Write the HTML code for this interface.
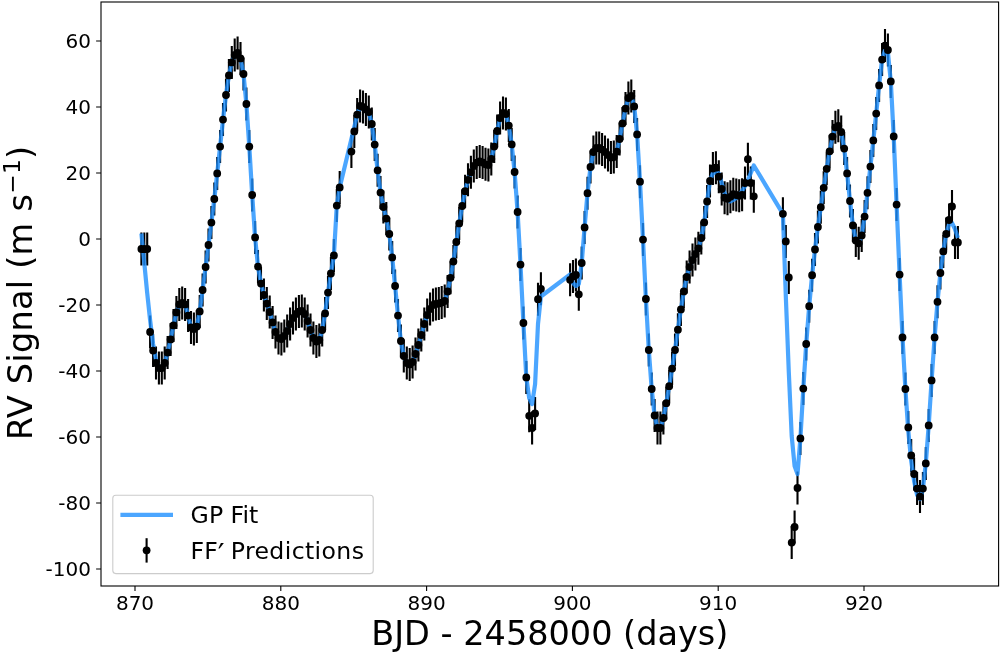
<!DOCTYPE html>
<html><head><meta charset="utf-8"><title>RV Signal</title>
<style>
html,body{margin:0;padding:0;background:#fff;}
svg{display:block;font-family:"DejaVu Sans","Liberation Sans",sans-serif;fill:#000;}
.t{font-size:20px}
.l{font-size:33.5px}
.g{font-size:23.6px}
</style></head><body>
<svg width="1000" height="653" viewBox="0 0 1000 653">
<rect width="1000" height="653" fill="#fff"/>
<g fill="none">
<path d="M141.4 232.5v33M144.3 232.5v33M147.2 232.5v33M150.1 315.5v33M153.1 334.1v33M156 346.5v33M158.9 351.5v33M161.8 351.5v33M164.7 346.5v33M167.6 336.1v33M170.6 322.9v33M173.5 308.9v33M176.4 295.9v33M179.3 287.9v33M182.2 286.5v33M185.1 287.9v33M188.1 299.1v33M191 310.9v33M193.9 312.5v33M196.8 310.1v33M199.7 294.9v33M202.6 273.5v33M205.6 250.5v33M208.5 228.5v33M211.4 206.1v33M214.3 182.5v33M217.2 156.9v33M220.1 130.1v33M223 103.1v33M226 78.5v33M228.9 58.9v33M231.8 45.9v33M234.7 38.5v33M237.6 36.5v33M240.5 41.9v33M243.5 57.5v33M246.4 87.5v33M249.3 130.1v33M252.2 178.5v33M255.1 220.9v33M258 250.1v33M261 267.1v33M263.9 278.5v33M266.8 287.1v33M269.7 295.5v33M272.6 305.9v33M275.5 315.5v33M278.5 321.5v33M281.4 322.5v33M284.3 319.5v33M287.2 314.5v33M290.1 307.5v33M293 301.5v33M295.9 297.5v33M298.9 295.1v33M301.8 294.5v33M304.7 297.5v33M307.6 304.5v33M310.5 313.5v33M313.4 321.5v33M316.4 325v33M319.3 323.5v33M322.2 313.5v33M325.1 296.9v33M328 276.1v33M330.9 257v33M333.9 238.9v33M336.8 189.1v33M339.7 170.9v33M351.4 135.1v33M354.3 114.9v33M357.2 98.1v33M360.1 89.5v33M363 90.5v33M365.9 92.9v33M368.8 95.5v33M371.8 107.5v33M374.7 128.1v33M377.6 153.8v33M380.5 176.1v33M383.4 190.5v33M386.3 202.1v33M389.3 217.5v33M392.2 240.9v33M395.1 269.5v33M398 299.1v33M400.9 324.5v33M403.8 339.5v33M406.8 346.5v33M409.7 347.9v33M412.6 345.5v33M415.5 337.5v33M418.4 328.5v33M421.3 318.5v33M424.3 307.5v33M427.2 298.5v33M430.1 292.5v33M433 288.5v33M435.9 287.5v33M438.8 286.9v33M441.7 286.1v33M444.7 284.5v33M447.6 275v33M450.5 261.3v33M453.4 245v33M456.3 225.5v33M459.2 206.9v33M462.2 189.5v33M465.1 174.7v33M468 163.3v33M470.9 155.7v33M473.8 149.5v33M476.7 146.1v33M479.7 144.9v33M482.6 146v33M485.5 147.8v33M488.4 148.5v33M491.3 142.5v33M494.2 130.1v33M497.2 114.5v33M500.1 101.5v33M503 96.5v33M505.9 97.5v33M508.8 109.1v33M511.7 127.9v33M514.6 155.5v33M517.6 195.5v33M520.5 248.1v33M523.4 306.5v33M526.3 360.9v33M529.2 399.3v33M532.1 411.5v33M535.1 396.9v33M538 282.7v33M540.9 272.3v33M570.1 263.3v33M573 260v33M575.9 258.4v33M578.8 277.8v33M581.7 246.5v33M584.6 210.9v33M587.5 176.7v33M590.5 150.5v33M593.4 135.5v33M596.3 131.5v33M599.2 131.5v33M602.1 133.1v33M605 135.5v33M608 138.5v33M610.9 141.1v33M613.8 140.5v33M616.7 135.1v33M619.6 122.5v33M622.5 106.9v33M625.5 92.1v33M628.4 81.5v33M631.3 79.5v33M634.2 89.9v33M637.1 117.9v33M640 165.2v33M643 223.1v33M645.9 282.5v33M648.8 333.5v33M651.7 372.5v33M654.6 399v33M657.5 411.5v33M660.4 411.5v33M663.4 401.5v33M666.3 386.7v33M669.2 369.7v33M672.1 352.1v33M675 333.5v33M677.9 313.2v33M680.9 292.9v33M683.8 274.9v33M686.7 260.5v33M689.6 250.5v33M692.5 243.5v33M695.4 237.5v33M698.4 231.8v33M701.3 221.5v33M704.2 205.9v33M707.1 185v33M710 164.5v33M712.9 152v33M715.9 151.2v33M718.8 160.2v33M721.7 172.5v33M724.6 181.2v33M727.5 182.3v33M730.4 180.3v33M733.3 177.7v33M736.3 178.5v33M739.2 179.2v33M742.1 178.3v33M745 166.5v33M747.9 142.7v33M750.8 166.5v33M753.8 179.8v33M782.9 197.3v33M785.8 224.9v33M788.8 260.9v33M791.7 526.1v33M794.6 510.5v33M797.5 471.5v33M800.4 421.9v33M803.3 372.1v33M806.2 327.5v33M809.2 289.7v33M812.1 258.7v33M815 233v33M817.9 210.5v33M820.8 190.7v33M823.7 171.3v33M826.7 152.3v33M829.6 134.8v33M832.5 120.1v33M835.4 110.8v33M838.3 109.3v33M841.2 115.5v33M844.2 132.1v33M847.1 156.9v33M850 184.5v33M852.9 208.9v33M855.8 224v33M858.7 226.8v33M861.7 218.9v33M864.6 200.1v33M867.5 176.3v33M870.4 150.1v33M873.3 123.9v33M876.2 97.1v33M879.1 68.9v33M882.1 43.1v33M885 29.1v33M887.9 33.5v33M890.8 64.9v33M893.7 119.9v33M896.6 188.1v33M899.6 258.1v33M902.5 320.9v33M905.4 372.5v33M908.3 410.9v33M911.2 438.9v33M914.1 457.5v33M917.1 472.1v33M920 480.1v33M922.9 472.1v33M925.8 446.9v33M928.7 408.9v33M931.6 363.9v33M934.6 320.9v33M937.5 285.3v33M940.4 256.5v33M943.3 234.9v33M946.2 217.5v33M949.1 203.5v33M952 190v33M955 225.9v33M957.9 225.9v33" stroke="#000" stroke-width="2.1"/>
<path d="M141.4 233.5 144.3 263 147.2 293 150.1 320 153.1 344 156 360 158.9 367 161.8 368 164.7 363 167.6 352.6 170.6 339.4 173.5 325.4 176.4 312.4 179.3 304.4 182.2 303 185.1 304.4 188.1 315.6 191 327.4 193.9 329 196.8 326.6 199.7 311.4 202.6 290 205.6 267 208.5 245 211.4 222.6 214.3 199 217.2 173.4 220.1 146.6 223 119.6 226 95 228.9 75.4 231.8 62.4 234.7 55 237.6 53 240.5 58.4 243.5 74 246.4 104 249.3 146.6 252.2 195 255.1 237.4 258 266.6 261 283.6 263.9 295 266.8 303.6 269.7 312 272.6 322.4 275.5 332 278.5 338 281.4 339 284.3 336 287.2 331 290.1 324 293 318 295.9 314 298.9 311.6 301.8 311 304.7 314 307.6 321 310.5 330 313.4 338 316.4 341.5 319.3 340 322.2 330 325.1 313.4 328 292.6 330.9 273.5 333.9 255.4 336.8 205.6 339.7 187.4 351.4 139 354.3 127 357.2 114.6 360.1 106 363 107 365.9 109.4 368.8 112 371.8 124 374.7 144.6 377.6 170.3 380.5 192.6 383.4 207 386.3 218.6 389.3 234 392.2 257.4 395.1 286 398 315.6 400.9 341 403.8 356 406.8 363 409.7 364.4 412.6 362 415.5 354 418.4 345 421.3 335 424.3 324 427.2 315 430.1 309 433 305 435.9 304 438.8 303.4 441.7 302.6 444.7 301 447.6 291.5 450.5 277.8 453.4 261.5 456.3 242 459.2 223.4 462.2 206 465.1 191.2 468 179.8 470.9 172.2 473.8 166 476.7 162.6 479.7 161.4 482.6 162.5 485.5 164.3 488.4 165 491.3 159 494.2 146.6 497.2 131 500.1 118 503 113 505.9 114 508.8 125.6 511.7 144.4 514.6 172 517.6 212 520.5 264.6 523.4 323 526.3 377.4 529.2 398 532.1 404 535.1 384 538 324 540.9 296.5 570.1 274.5 573 283 575.9 286 578.8 284 581.7 263 584.6 227.4 587.5 193.2 590.5 167 593.4 152 596.3 148 599.2 148 602.1 149.6 605 152 608 155 610.9 157.6 613.8 157 616.7 151.6 619.6 139 622.5 123.4 625.5 108.6 628.4 98 631.3 96 634.2 106.4 637.1 134.4 640 181.7 643 239.6 645.9 299 648.8 350 651.7 389 654.6 415.5 657.5 428 660.4 428 663.4 418 666.3 403.2 669.2 386.2 672.1 368.6 675 350 677.9 329.7 680.9 309.4 683.8 291.4 686.7 277 689.6 267 692.5 260 695.4 254 698.4 248.3 701.3 238 704.2 222.4 707.1 201.5 710 181 712.9 173 715.9 171.5 718.8 173.5 721.7 183 724.6 193 727.5 199.5 730.4 201.5 733.3 200 736.3 198 739.2 195 742.1 191 745 186 747.9 180 750.8 173 753.8 165.5 782.9 213.8 785.8 296 788.8 372 791.7 436 794.6 466 797.5 474 800.4 438.4 803.3 388.6 806.2 344 809.2 306.2 812.1 275.2 815 249.5 817.9 227 820.8 207.2 823.7 187.8 826.7 168.8 829.6 151.3 832.5 136.6 835.4 127.3 838.3 125.8 841.2 132 844.2 148.6 847.1 173.4 850 201 852.9 225.4 855.8 240.5 858.7 243.3 861.7 235.4 864.6 216.6 867.5 192.8 870.4 166.6 873.3 140.4 876.2 113.6 879.1 85.4 882.1 59.6 885 50 887.9 52.5 890.8 81.4 893.7 136.4 896.6 204.6 899.6 274.6 902.5 337.4 905.4 389 908.3 431 911.2 461 914.1 481 917.1 495 920 499 922.9 488.6 925.8 463.4 928.7 425.4 931.6 380.4 934.6 337.4 937.5 301.8 940.4 273 943.3 251.4 946.2 234 949.1 224 952 223 955 229 957.9 238" stroke="#1e90ff" stroke-opacity="0.8" stroke-width="4.2" stroke-linejoin="round" stroke-linecap="butt"/>
<path d="M141.4 249h.01M144.3 249h.01M147.2 249h.01M150.1 332h.01M153.1 350.6h.01M156 363h.01M158.9 368h.01M161.8 368h.01M164.7 363h.01M167.6 352.6h.01M170.6 339.4h.01M173.5 325.4h.01M176.4 312.4h.01M179.3 304.4h.01M182.2 303h.01M185.1 304.4h.01M188.1 315.6h.01M191 327.4h.01M193.9 329h.01M196.8 326.6h.01M199.7 311.4h.01M202.6 290h.01M205.6 267h.01M208.5 245h.01M211.4 222.6h.01M214.3 199h.01M217.2 173.4h.01M220.1 146.6h.01M223 119.6h.01M226 95h.01M228.9 75.4h.01M231.8 62.4h.01M234.7 55h.01M237.6 53h.01M240.5 58.4h.01M243.5 74h.01M246.4 104h.01M249.3 146.6h.01M252.2 195h.01M255.1 237.4h.01M258 266.6h.01M261 283.6h.01M263.9 295h.01M266.8 303.6h.01M269.7 312h.01M272.6 322.4h.01M275.5 332h.01M278.5 338h.01M281.4 339h.01M284.3 336h.01M287.2 331h.01M290.1 324h.01M293 318h.01M295.9 314h.01M298.9 311.6h.01M301.8 311h.01M304.7 314h.01M307.6 321h.01M310.5 330h.01M313.4 338h.01M316.4 341.5h.01M319.3 340h.01M322.2 330h.01M325.1 313.4h.01M328 292.6h.01M330.9 273.5h.01M333.9 255.4h.01M336.8 205.6h.01M339.7 187.4h.01M351.4 151.6h.01M354.3 131.4h.01M357.2 114.6h.01M360.1 106h.01M363 107h.01M365.9 109.4h.01M368.8 112h.01M371.8 124h.01M374.7 144.6h.01M377.6 170.3h.01M380.5 192.6h.01M383.4 207h.01M386.3 218.6h.01M389.3 234h.01M392.2 257.4h.01M395.1 286h.01M398 315.6h.01M400.9 341h.01M403.8 356h.01M406.8 363h.01M409.7 364.4h.01M412.6 362h.01M415.5 354h.01M418.4 345h.01M421.3 335h.01M424.3 324h.01M427.2 315h.01M430.1 309h.01M433 305h.01M435.9 304h.01M438.8 303.4h.01M441.7 302.6h.01M444.7 301h.01M447.6 291.5h.01M450.5 277.8h.01M453.4 261.5h.01M456.3 242h.01M459.2 223.4h.01M462.2 206h.01M465.1 191.2h.01M468 179.8h.01M470.9 172.2h.01M473.8 166h.01M476.7 162.6h.01M479.7 161.4h.01M482.6 162.5h.01M485.5 164.3h.01M488.4 165h.01M491.3 159h.01M494.2 146.6h.01M497.2 131h.01M500.1 118h.01M503 113h.01M505.9 114h.01M508.8 125.6h.01M511.7 144.4h.01M514.6 172h.01M517.6 212h.01M520.5 264.6h.01M523.4 323h.01M526.3 377.4h.01M529.2 415.8h.01M532.1 428h.01M535.1 413.4h.01M538 299.2h.01M540.9 288.8h.01M570.1 279.8h.01M573 276.5h.01M575.9 274.9h.01M578.8 294.3h.01M581.7 263h.01M584.6 227.4h.01M587.5 193.2h.01M590.5 167h.01M593.4 152h.01M596.3 148h.01M599.2 148h.01M602.1 149.6h.01M605 152h.01M608 155h.01M610.9 157.6h.01M613.8 157h.01M616.7 151.6h.01M619.6 139h.01M622.5 123.4h.01M625.5 108.6h.01M628.4 98h.01M631.3 96h.01M634.2 106.4h.01M637.1 134.4h.01M640 181.7h.01M643 239.6h.01M645.9 299h.01M648.8 350h.01M651.7 389h.01M654.6 415.5h.01M657.5 428h.01M660.4 428h.01M663.4 418h.01M666.3 403.2h.01M669.2 386.2h.01M672.1 368.6h.01M675 350h.01M677.9 329.7h.01M680.9 309.4h.01M683.8 291.4h.01M686.7 277h.01M689.6 267h.01M692.5 260h.01M695.4 254h.01M698.4 248.3h.01M701.3 238h.01M704.2 222.4h.01M707.1 201.5h.01M710 181h.01M712.9 168.5h.01M715.9 167.7h.01M718.8 176.7h.01M721.7 189h.01M724.6 197.7h.01M727.5 198.8h.01M730.4 196.8h.01M733.3 194.2h.01M736.3 195h.01M739.2 195.7h.01M742.1 194.8h.01M745 183h.01M747.9 159.2h.01M750.8 183h.01M753.8 196.3h.01M782.9 213.8h.01M785.8 241.4h.01M788.8 277.4h.01M791.7 542.6h.01M794.6 527h.01M797.5 488h.01M800.4 438.4h.01M803.3 388.6h.01M806.2 344h.01M809.2 306.2h.01M812.1 275.2h.01M815 249.5h.01M817.9 227h.01M820.8 207.2h.01M823.7 187.8h.01M826.7 168.8h.01M829.6 151.3h.01M832.5 136.6h.01M835.4 127.3h.01M838.3 125.8h.01M841.2 132h.01M844.2 148.6h.01M847.1 173.4h.01M850 201h.01M852.9 225.4h.01M855.8 240.5h.01M858.7 243.3h.01M861.7 235.4h.01M864.6 216.6h.01M867.5 192.8h.01M870.4 166.6h.01M873.3 140.4h.01M876.2 113.6h.01M879.1 85.4h.01M882.1 59.6h.01M885 45.6h.01M887.9 50h.01M890.8 81.4h.01M893.7 136.4h.01M896.6 204.6h.01M899.6 274.6h.01M902.5 337.4h.01M905.4 389h.01M908.3 427.4h.01M911.2 455.4h.01M914.1 474h.01M917.1 488.6h.01M920 496.6h.01M922.9 488.6h.01M925.8 463.4h.01M928.7 425.4h.01M931.6 380.4h.01M934.6 337.4h.01M937.5 301.8h.01M940.4 273h.01M943.3 251.4h.01M946.2 234h.01M949.1 220h.01M952 206.5h.01M955 242.4h.01M957.9 242.4h.01" stroke="#000" stroke-width="7.8" stroke-linecap="round"/>
<path d="M135 586v4.9M280.8 586v4.9M426.6 586v4.9M572.4 586v4.9M718.2 586v4.9M864 586v4.9M101 569h-4.9M101 503h-4.9M101 437h-4.9M101 371h-4.9M101 305h-4.9M101 239h-4.9M101 173h-4.9M101 107h-4.9M101 41h-4.9" stroke="#000" stroke-width="1.1"/>
<rect x="101.0" y="2.0" width="897.6" height="584.0" stroke="#000" stroke-width="1.1"/>
</g>
<g class="t"><text x="135" y="610.3" text-anchor="middle">870</text><text x="280.8" y="610.3" text-anchor="middle">880</text><text x="426.6" y="610.3" text-anchor="middle">890</text><text x="572.4" y="610.3" text-anchor="middle">900</text><text x="718.2" y="610.3" text-anchor="middle">910</text><text x="864" y="610.3" text-anchor="middle">920</text><text x="91" y="576.3" text-anchor="end">-100</text><text x="91" y="510.3" text-anchor="end">-80</text><text x="91" y="444.3" text-anchor="end">-60</text><text x="91" y="378.3" text-anchor="end">-40</text><text x="91" y="312.3" text-anchor="end">-20</text><text x="91" y="246.3" text-anchor="end">0</text><text x="91" y="180.3" text-anchor="end">20</text><text x="91" y="114.3" text-anchor="end">40</text><text x="91" y="48.3" text-anchor="end">60</text></g>
<text class="l" x="549.8" y="645.4" text-anchor="middle">BJD - 2458000 (days)</text>
<text class="l" transform="translate(32.3 440) rotate(-90)" letter-spacing="0.27">RV Signal (m s<tspan font-size="23.3px" dy="-12.5">−1</tspan><tspan dy="12.5">)</tspan></text>
<rect x="112.8" y="495.2" width="260.4" height="78.4" rx="3" ry="3" fill="#fff" fill-opacity="0.8" stroke="#ccc" stroke-width="1.1"/>
<path d="M120.4 514.8h52.6" stroke="#1e90ff" stroke-opacity="0.8" stroke-width="4.2" fill="none"/>
<path d="M146.6 538.2v24.4" stroke="#000" stroke-width="2.1" fill="none"/>
<circle cx="146.6" cy="550.3" r="3.9"/>
<text class="g" x="190.6" y="523">GP Fit</text>
<text class="g" x="190.6" y="558.6">FF<tspan font-size="30px" dy="6.5">′</tspan><tspan x="230.7" dy="-6.5" letter-spacing="0.38">Predictions</tspan></text>
</svg>
</body></html>
